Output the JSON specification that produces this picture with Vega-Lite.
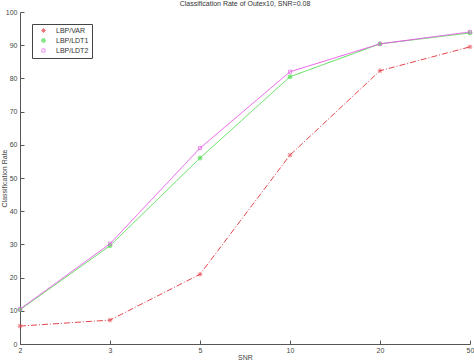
{
  "$schema": "https://vega.github.io/schema/vega-lite/v6.json",
  "width": 450,
  "height": 332,
  "autosize": "none",
  "padding": {"left": 20, "top": 12, "right": 4, "bottom": 16},
  "background": "white",
  "title": {"text": "Classification Rate of Outex10, SNR=0.08", "fontSize": 7, "font": "Liberation Sans", "fontWeight": "normal", "color": "#333", "offset": 1, "anchor": "middle"},
  "config": {"view": {"stroke": null}, "font": "Liberation Sans"},
  "data": {"values": [
    {"snr": "2", "method": "LBP/VAR", "rate": 5.4},
    {"snr": "3", "method": "LBP/VAR", "rate": 7.2},
    {"snr": "5", "method": "LBP/VAR", "rate": 21},
    {"snr": "10", "method": "LBP/VAR", "rate": 56.9},
    {"snr": "20", "method": "LBP/VAR", "rate": 82.3},
    {"snr": "50", "method": "LBP/VAR", "rate": 89.5},
    {"snr": "2", "method": "LBP/LDT1", "rate": 10.3},
    {"snr": "3", "method": "LBP/LDT1", "rate": 29.6},
    {"snr": "5", "method": "LBP/LDT1", "rate": 56},
    {"snr": "10", "method": "LBP/LDT1", "rate": 80.5},
    {"snr": "20", "method": "LBP/LDT1", "rate": 90.4},
    {"snr": "50", "method": "LBP/LDT1", "rate": 93.7},
    {"snr": "2", "method": "LBP/LDT2", "rate": 10.5},
    {"snr": "3", "method": "LBP/LDT2", "rate": 30.2},
    {"snr": "5", "method": "LBP/LDT2", "rate": 59},
    {"snr": "10", "method": "LBP/LDT2", "rate": 82},
    {"snr": "20", "method": "LBP/LDT2", "rate": 90.4},
    {"snr": "50", "method": "LBP/LDT2", "rate": 94}
  ]},
  "encoding": {
    "x": {"field": "snr", "type": "ordinal", "sort": ["2","3","5","10","20","50"],
      "scale": {"type": "point", "padding": 0},
      "axis": {"title": "SNR", "labelAngle": 0, "labelFontSize": 7, "titleFontSize": 7, "titleFontWeight": "normal", "labelColor": "#444", "titleColor": "#444", "domainColor": "#555", "tickColor": "#555", "tickSize": -4, "labelPadding": 6, "titleY": 15, "titleBaseline": "alphabetic", "grid": false}},
    "y": {"field": "rate", "type": "quantitative",
      "scale": {"domain": [0, 100], "nice": false},
      "axis": {"title": "Classification Rate", "values": [0,10,20,30,40,50,60,70,80,90,100], "labelFontSize": 7, "titleFontSize": 7, "titleFontWeight": "normal", "labelColor": "#444", "titleColor": "#444", "domainColor": "#555", "tickColor": "#555", "tickSize": -4, "labelPadding": 7, "titleX": -14, "titleY": 166, "titleBaseline": "alphabetic", "grid": false}},
    "color": {"field": "method", "type": "nominal",
      "scale": {"domain": ["LBP/VAR", "LBP/LDT1", "LBP/LDT2"], "range": ["#e5444c", "#55dd55", "#ea55ea"]},
      "legend": {"title": null, "orient": "none", "legendX": 12, "legendY": 12, "labelFontSize": 7, "labelColor": "#333", "strokeColor": "#444", "fillColor": "white", "padding": 3, "symbolType": "M-2.7,0L2.7,0", "symbolSize": 36, "symbolOffset": 5, "labelOffset": 9, "rowPadding": 1, "symbolStrokeWidth": 1, "symbolFillColor": "transparent"}
    }
  },
  "layer": [
    {"mark": {"type": "line", "strokeWidth": 1},
     "encoding": {"strokeDash": {"field": "method", "type": "nominal",
       "scale": {"domain": ["LBP/VAR", "LBP/LDT1", "LBP/LDT2"], "range": [[6,2,1,2],[1,0],[1,0]]}}}},
    {"mark": {"type": "point", "strokeWidth": 1},
     "encoding": {
       "shape": {"field": "method", "type": "nominal",
         "scale": {"domain": ["LBP/VAR", "LBP/LDT1", "LBP/LDT2"], "range": ["M-1,0L1,0M0,-1L0,1M-0.7,-0.7L0.7,0.7M-0.7,0.7L0.7,-0.7", "circle", "square"]}, "legend": null},
       "size": {"field": "method", "type": "nominal",
         "scale": {"domain": ["LBP/VAR", "LBP/LDT1", "LBP/LDT2"], "range": [22, 10, 24]}, "legend": null},
       "fill": {"field": "method", "type": "nominal", "scale": {"domain": ["LBP/VAR", "LBP/LDT1", "LBP/LDT2"], "range": ["#e5444c", "#55dd55", "transparent"]}, "legend": null}}}
  ]
}
